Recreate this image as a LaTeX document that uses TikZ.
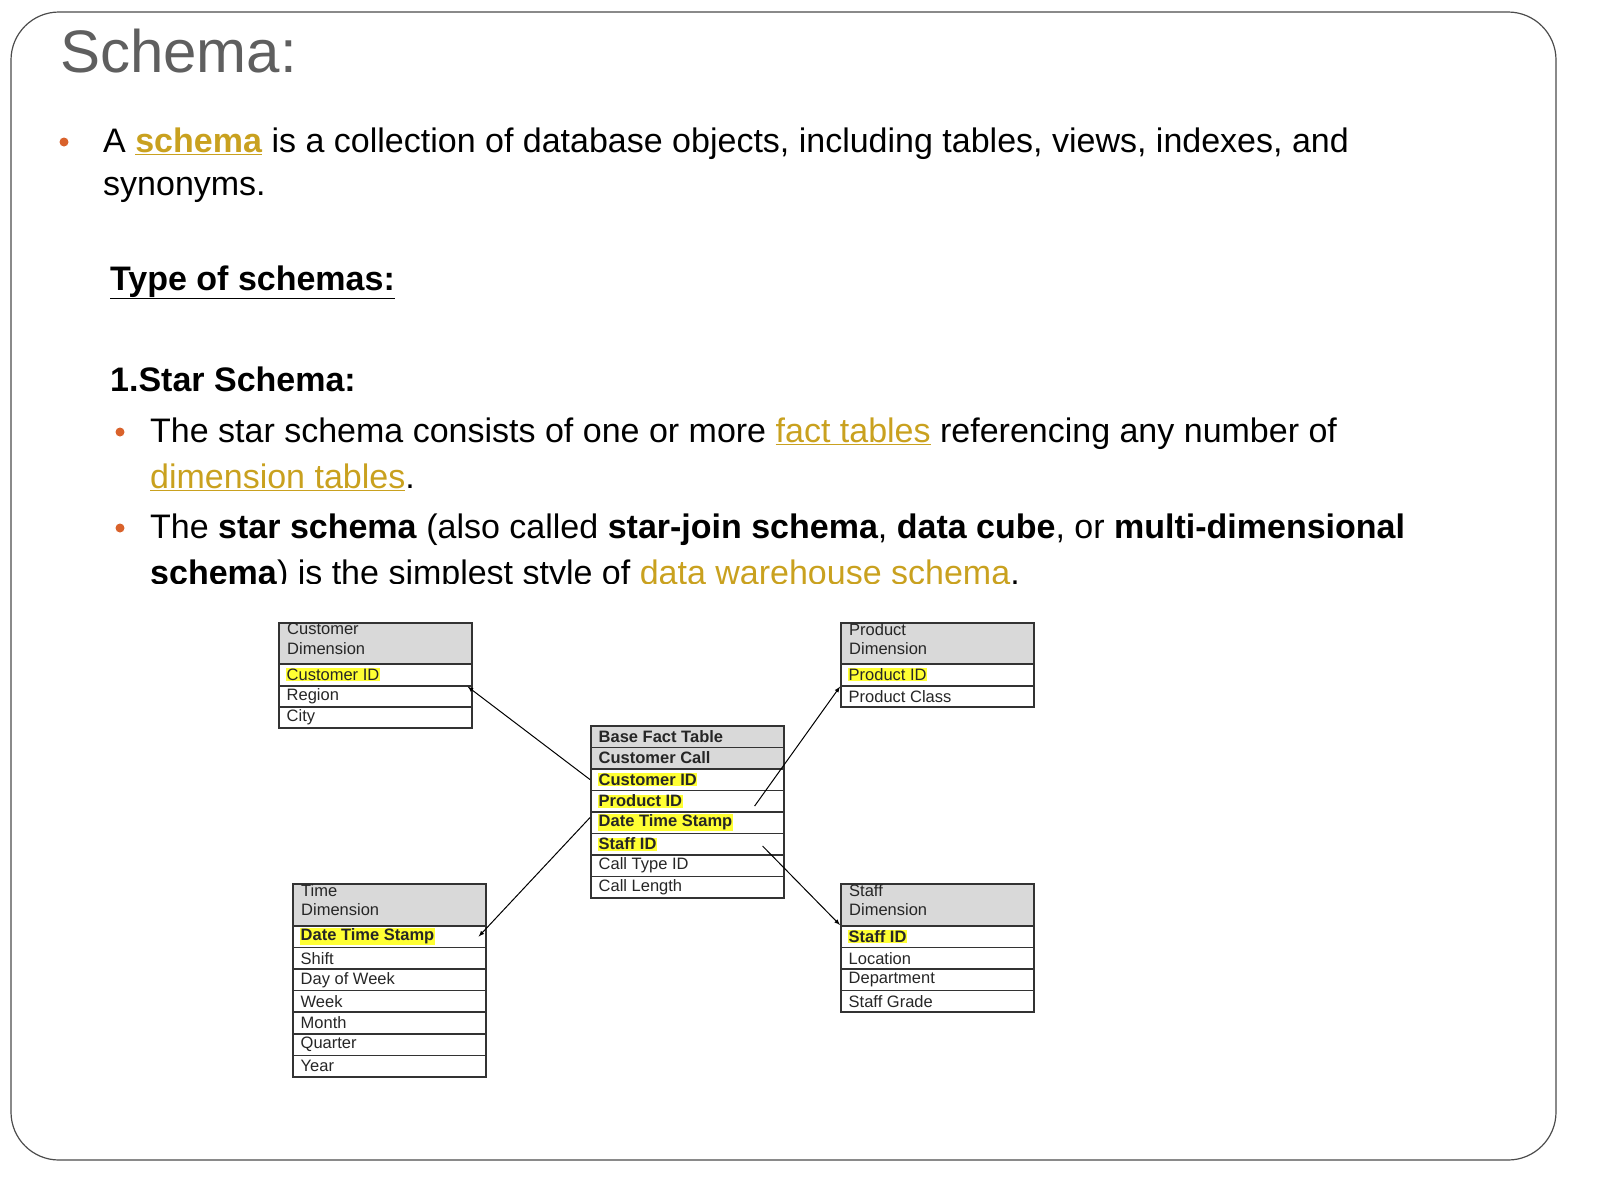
\documentclass[tikz,border=0pt]{standalone}
\usepackage{fontspec}
\setmainfont{Liberation Sans}
\newcommand\myul[1]{\underline{#1}}
\definecolor{lnk}{HTML}{C9A11F}
\definecolor{bul}{HTML}{D9622B}
\definecolor{ttl}{HTML}{5F5F5F}
\definecolor{hl}{HTML}{FFFF33}
\definecolor{hdr}{HTML}{D9D9D9}
\newcommand\trow[5]{\node[rowbox, minimum height=#4] (#1) at (#2,#3) {};}
\newcommand\ttxt[2]{\node[rowtxt] at ([xshift=8]#1.west) {#2};}
\newcommand\htxt[2]{\node[rowtxt,fill=hl] at ([xshift=8]#1.west) {#2};}
\begin{document}
\begin{tikzpicture}[x=1pt,y=-1pt,
  rowbox/.style={draw=black!80,line width=1.6pt,anchor=north west,minimum width=193,inner sep=0pt},
  hbox/.style={rowbox,fill=hdr},
  rowtxt/.style={anchor=west,inner sep=0.5pt,font=\fontsize{16.5}{19}\selectfont,text=black!85},
  hdtxt/.style={anchor=north west,align=left,inner sep=0pt,font=\fontsize{16.5}{19.5}\selectfont,text=black!85},
  body/.style={anchor=base west,inner sep=0pt,font=\fontsize{34}{40}\selectfont},
  dot/.style={circle,fill=bul,inner sep=0pt,minimum size=9},
  arr/.style={-latex,line width=1pt}]
\useasboundingbox (0,0) rectangle (1600,1200);
\draw[black!70,line width=1.2pt,rounded corners=48] (11,12) rectangle (1556,1160);
\node[anchor=base west,inner sep=0pt,text=ttl,font=\fontsize{60}{70}\selectfont] (title) at (60,72) {Schema:};
\node[dot] (b1) at (64,142) {};
\node[body] (t1) at (103,152) {A \textcolor{lnk}{\myul{\textbf{schema}}} is a collection of database objects, including tables, views, indexes, and};
\node[body] (t2) at (103,195) {synonyms.};
\node[body] (t3) at (110,290) {\myul{\textbf{Type of schemas:}}};
\node[body] (t4) at (110,391) {\textbf{1.Star Schema:}};
\node[dot] (b2) at (120,432) {};
\node[body] (t5) at (150,442) {The star schema consists of one or more \textcolor{lnk}{\myul{fact tables}} referencing any number of};
\node[body] (t6) at (150,488) {\textcolor{lnk}{\myul{dimension tables}}.};
\node[dot] (b3) at (120,528) {};
\node[body] (t7) at (150,538) {The \textbf{star schema} (also called \textbf{star-join schema}, \textbf{data cube}, or \textbf{multi-dimensional}};
\begin{scope}
\clip (0,540) rectangle (1600,583);
\node[body] (t8) at (150,584) {\textbf{schema}) is the simplest style of \textcolor{lnk}{data warehouse schema}.};
\end{scope}
% Customer
\node[hbox,minimum height=41] (ch) at (278,622) {};
\node[hdtxt] at ([xshift=9,yshift=-1]ch.north west) {Customer\\Dimension};
\trow{c1}{278}{663}{22}{} \htxt{c1}{Customer ID}
\trow{c2}{278}{685}{21}{} \ttxt{c2}{Region}
\trow{c3}{278}{706}{21}{} \ttxt{c3}{City}
% Product
\node[hbox,minimum height=41] (ph) at (840,622) {};
\node[hdtxt] at ([xshift=9,yshift=-1]ph.north west) {Product\\Dimension};
\trow{p1}{840}{663}{22}{} \htxt{p1}{Product ID}
\trow{p2}{840}{685}{21}{} \ttxt{p2}{Product Class}
% Fact
\node[hbox,minimum height=21.5] (f0) at (590,725) {}; \ttxt{f0}{\textbf{Base Fact Table}}
\node[hbox,minimum height=21.5] (f1) at (590,746.5) {}; \ttxt{f1}{\textbf{Customer Call}}
\trow{f2}{590}{768}{21.5}{} \htxt{f2}{\textbf{Customer ID}}
\trow{f3}{590}{789.5}{21.5}{} \htxt{f3}{\textbf{Product ID}}
\trow{f4}{590}{811}{21.5}{} \htxt{f4}{\textbf{Date Time Stamp}}
\trow{f5}{590}{832.5}{21.5}{} \htxt{f5}{\textbf{Staff ID}}
\trow{f6}{590}{854}{21.5}{} \ttxt{f6}{Call Type ID}
\trow{f7}{590}{875.5}{21.5}{} \ttxt{f7}{Call Length}
% Time
\node[hbox,minimum height=42] (th) at (292,883) {};
\node[hdtxt] at ([xshift=9,yshift=-1]th.north west) {Time\\Dimension};
\trow{m1}{292}{925}{21.6}{} \htxt{m1}{\textbf{Date Time Stamp}}
\trow{m2}{292}{946.6}{21.6}{} \ttxt{m2}{Shift}
\trow{m3}{292}{968.2}{21.6}{} \ttxt{m3}{Day of Week}
\trow{m4}{292}{989.8}{21.6}{} \ttxt{m4}{Week}
\trow{m5}{292}{1011.4}{21.6}{} \ttxt{m5}{Month}
\trow{m6}{292}{1033}{21.6}{} \ttxt{m6}{Quarter}
\trow{m7}{292}{1054.6}{21.6}{} \ttxt{m7}{Year}
% Staff
\node[hbox,minimum height=42] (sh) at (840,883) {};
\node[hdtxt] at ([xshift=9,yshift=-1]sh.north west) {Staff\\Dimension};
\trow{s1}{840}{925}{21.6}{} \htxt{s1}{\textbf{Staff ID}}
\trow{s2}{840}{946.6}{21.6}{} \ttxt{s2}{Location}
\trow{s3}{840}{968.2}{21.6}{} \ttxt{s3}{Department}
\trow{s4}{840}{989.8}{21.6}{} \ttxt{s4}{Staff Grade}
% connectors
\coordinate (a1) at ([xshift=-5]c1.south east);
\coordinate (a2) at ([xshift=-30,yshift=-5]f3.east);
\coordinate (a3) at ([yshift=5]f4.west);
\coordinate (a4) at ([xshift=-8]m1.east);
\coordinate (a5) at ([xshift=-22,yshift=-2]f5.east);
\draw[arr] (f2.west) -- (a1);
\draw[arr] (a2) -- (p1.south west);
\draw[arr] (a3) -- (a4);
\draw[arr] (a5) -- (s1.north west);
\end{tikzpicture}
\end{document}
